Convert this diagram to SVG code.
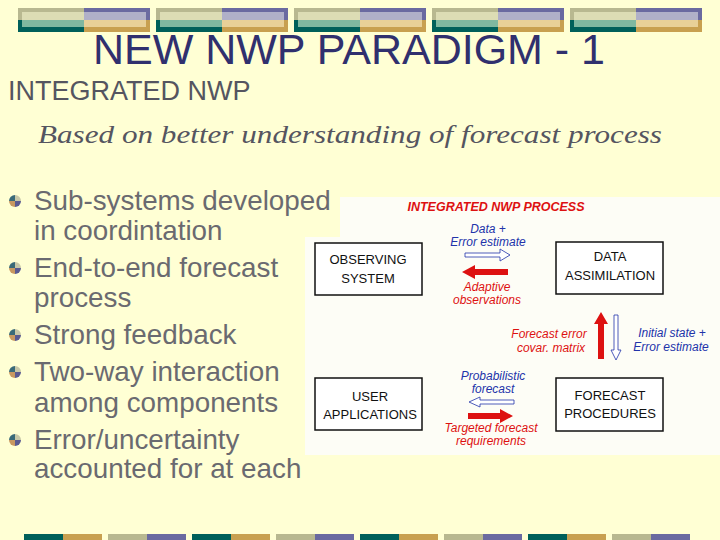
<svg xmlns="http://www.w3.org/2000/svg" width="720" height="540" viewBox="0 0 720 540">
<defs>
<style>
.blt{font-family:"Liberation Sans",Arial,sans-serif;font-size:27.8px;fill:#6a6a70}
.box{fill:#fff;stroke:#111;stroke-width:1.5}
.bt{font-family:"Liberation Sans",Arial,sans-serif;font-size:13px;fill:#111;text-anchor:middle}
.lb{font-family:"Liberation Sans",Arial,sans-serif;font-size:12px;font-style:italic;fill:#2233aa;text-anchor:middle}
.lr{font-family:"Liberation Sans",Arial,sans-serif;font-size:12px;font-style:italic;fill:#dd1111;text-anchor:middle}
</style>
<g id="deco">
<rect x="0" y="0" width="132" height="12" fill="#b8b890"/><rect x="4" y="4" width="62" height="8" fill="#dcdcb4"/>
<rect x="66" y="0" width="66" height="12" fill="#6a6aa0"/><rect x="66" y="4" width="62" height="8" fill="#b0b0c8"/>
<rect x="0" y="12" width="66" height="12" fill="#00605a"/><rect x="4" y="12" width="62" height="7" fill="#80b8a0"/>
<rect x="66" y="12" width="66" height="12" fill="#c8a050"/><rect x="66" y="12" width="62" height="7" fill="#e8d098"/>
</g>
<g id="bul">
<path d="M0,-6 A6,6 0 0 0 -6,0 L0,0Z" fill="#3a6a78"/>
<path d="M0,-6 A6,6 0 0 1 6,0 L0,0Z" fill="#c8c8a8"/>
<path d="M-6,0 A6,6 0 0 0 0,6 L0,0Z" fill="#c89860"/>
<path d="M6,0 A6,6 0 0 1 0,6 L0,0Z" fill="#5a5a90"/>
</g>
</defs>
<rect width="720" height="540" fill="#ffffd4"/>
<g id="topbar">
<use href="#deco" x="18" y="8"/><use href="#deco" x="156" y="8"/><use href="#deco" x="294" y="8"/><use href="#deco" x="432" y="8"/><use href="#deco" x="570" y="8"/>
</g>
<g id="botbar">
<rect x="24" y="534" width="39" height="6" fill="#00605a"/><rect x="63" y="534" width="39" height="6" fill="#c8a050"/>
<rect x="108" y="534" width="39" height="6" fill="#b8b890"/><rect x="147" y="534" width="39" height="6" fill="#6a6aa0"/>
<rect x="192" y="534" width="39" height="6" fill="#00605a"/><rect x="231" y="534" width="39" height="6" fill="#c8a050"/>
<rect x="276" y="534" width="39" height="6" fill="#b8b890"/><rect x="315" y="534" width="39" height="6" fill="#6a6aa0"/>
<rect x="360" y="534" width="39" height="6" fill="#00605a"/><rect x="399" y="534" width="39" height="6" fill="#c8a050"/>
<rect x="444" y="534" width="39" height="6" fill="#b8b890"/><rect x="483" y="534" width="39" height="6" fill="#6a6aa0"/>
<rect x="528" y="534" width="39" height="6" fill="#00605a"/><rect x="567" y="534" width="39" height="6" fill="#c8a050"/>
<rect x="612" y="534" width="39" height="6" fill="#b8b890"/><rect x="651" y="534" width="39" height="6" fill="#6a6aa0"/>
</g>
<text x="349" y="64" font-family="Liberation Sans,Arial,sans-serif" font-size="43" fill="#30306e" text-anchor="middle">NEW NWP PARADIGM - 1</text>
<text x="8" y="100" font-family="Liberation Sans,Arial,sans-serif" font-size="27" fill="#555560">INTEGRATED NWP</text>
<text x="38" y="143" font-family="Liberation Serif,Times New Roman,serif" font-size="26" font-style="italic" fill="#555560" textLength="624" lengthAdjust="spacingAndGlyphs">Based on better understanding of forecast process</text>
<g id="bullets">
<use href="#bul" x="15" y="201"/><use href="#bul" x="15" y="268"/><use href="#bul" x="15" y="335"/><use href="#bul" x="15" y="372"/><use href="#bul" x="15" y="440"/>
<text class="blt" x="34" y="210">Sub-systems developed</text>
<text class="blt" x="34" y="240">in coordintation</text>
<text class="blt" x="34" y="277">End-to-end forecast</text>
<text class="blt" x="34" y="307">process</text>
<text class="blt" x="34" y="344">Strong feedback</text>
<text class="blt" x="34" y="381">Two-way interaction</text>
<text class="blt" x="34" y="412">among components</text>
<text class="blt" x="34" y="449">Error/uncertainty</text>
<text class="blt" x="34" y="478">accounted for at each</text>
</g>
<path d="M340,197H720V455H305V237H340Z" fill="#fdfdf6"/>
<text x="496" y="211" font-family="Liberation Sans,Arial,sans-serif" font-size="12.5" font-weight="bold" font-style="italic" fill="#dd1111" text-anchor="middle">INTEGRATED NWP PROCESS</text>
<g id="obs"><rect class="box" x="315" y="243" width="107" height="52"/><text class="bt" x="368" y="264">OBSERVING</text><text class="bt" x="368" y="283">SYSTEM</text></g>
<g id="da"><rect class="box" x="556" y="242" width="107" height="52"/><text class="bt" x="610" y="261">DATA</text><text class="bt" x="610" y="280">ASSIMILATION</text></g>
<g id="user"><rect class="box" x="315" y="378" width="107" height="52"/><text class="bt" x="370" y="401">USER</text><text class="bt" x="370" y="419">APPLICATIONS</text></g>
<g id="fc"><rect class="box" x="556" y="378" width="107" height="53"/><text class="bt" x="610" y="400">FORECAST</text><text class="bt" x="610" y="418">PROCEDURES</text></g>
<g id="connectors">
<path d="M465,253H500V249L510,255L500,261V257H465Z" fill="#fff" stroke="#2233aa" stroke-width="0.8"/>
<path d="M508,269H475V265L462,272L475,279V275H508Z" fill="#dd1111"/>
<path d="M598,359V324H594L601,312L608,324H604V359Z" fill="#dd1111"/>
<path d="M614,315V350H611L616,360L621,350H618V315Z" fill="#fff" stroke="#2233aa" stroke-width="0.8"/>
<path d="M514,400H480V397L469,402L480,407V404H514Z" fill="#fff" stroke="#2233aa" stroke-width="0.8"/>
<path d="M468,413H500V409L513,416L500,423V419H468Z" fill="#dd1111"/>
</g>
<g id="labels">
<text class="lb" x="488" y="233">Data +</text><text class="lb" x="488" y="246">Error estimate</text>
<text class="lr" x="487" y="291">Adaptive</text><text class="lr" x="487" y="304">observations</text>
<text class="lr" x="549" y="338">Forecast error</text><text class="lr" x="551" y="352">covar. matrix</text>
<text class="lb" x="672" y="337">Initial state +</text><text class="lb" x="671" y="351">Error estimate</text>
<text class="lb" x="493" y="380">Probabilistic</text><text class="lb" x="493" y="393">forecast</text>
<text class="lr" x="491" y="432">Targeted forecast</text><text class="lr" x="491" y="445">requirements</text>
</g>
</svg>
